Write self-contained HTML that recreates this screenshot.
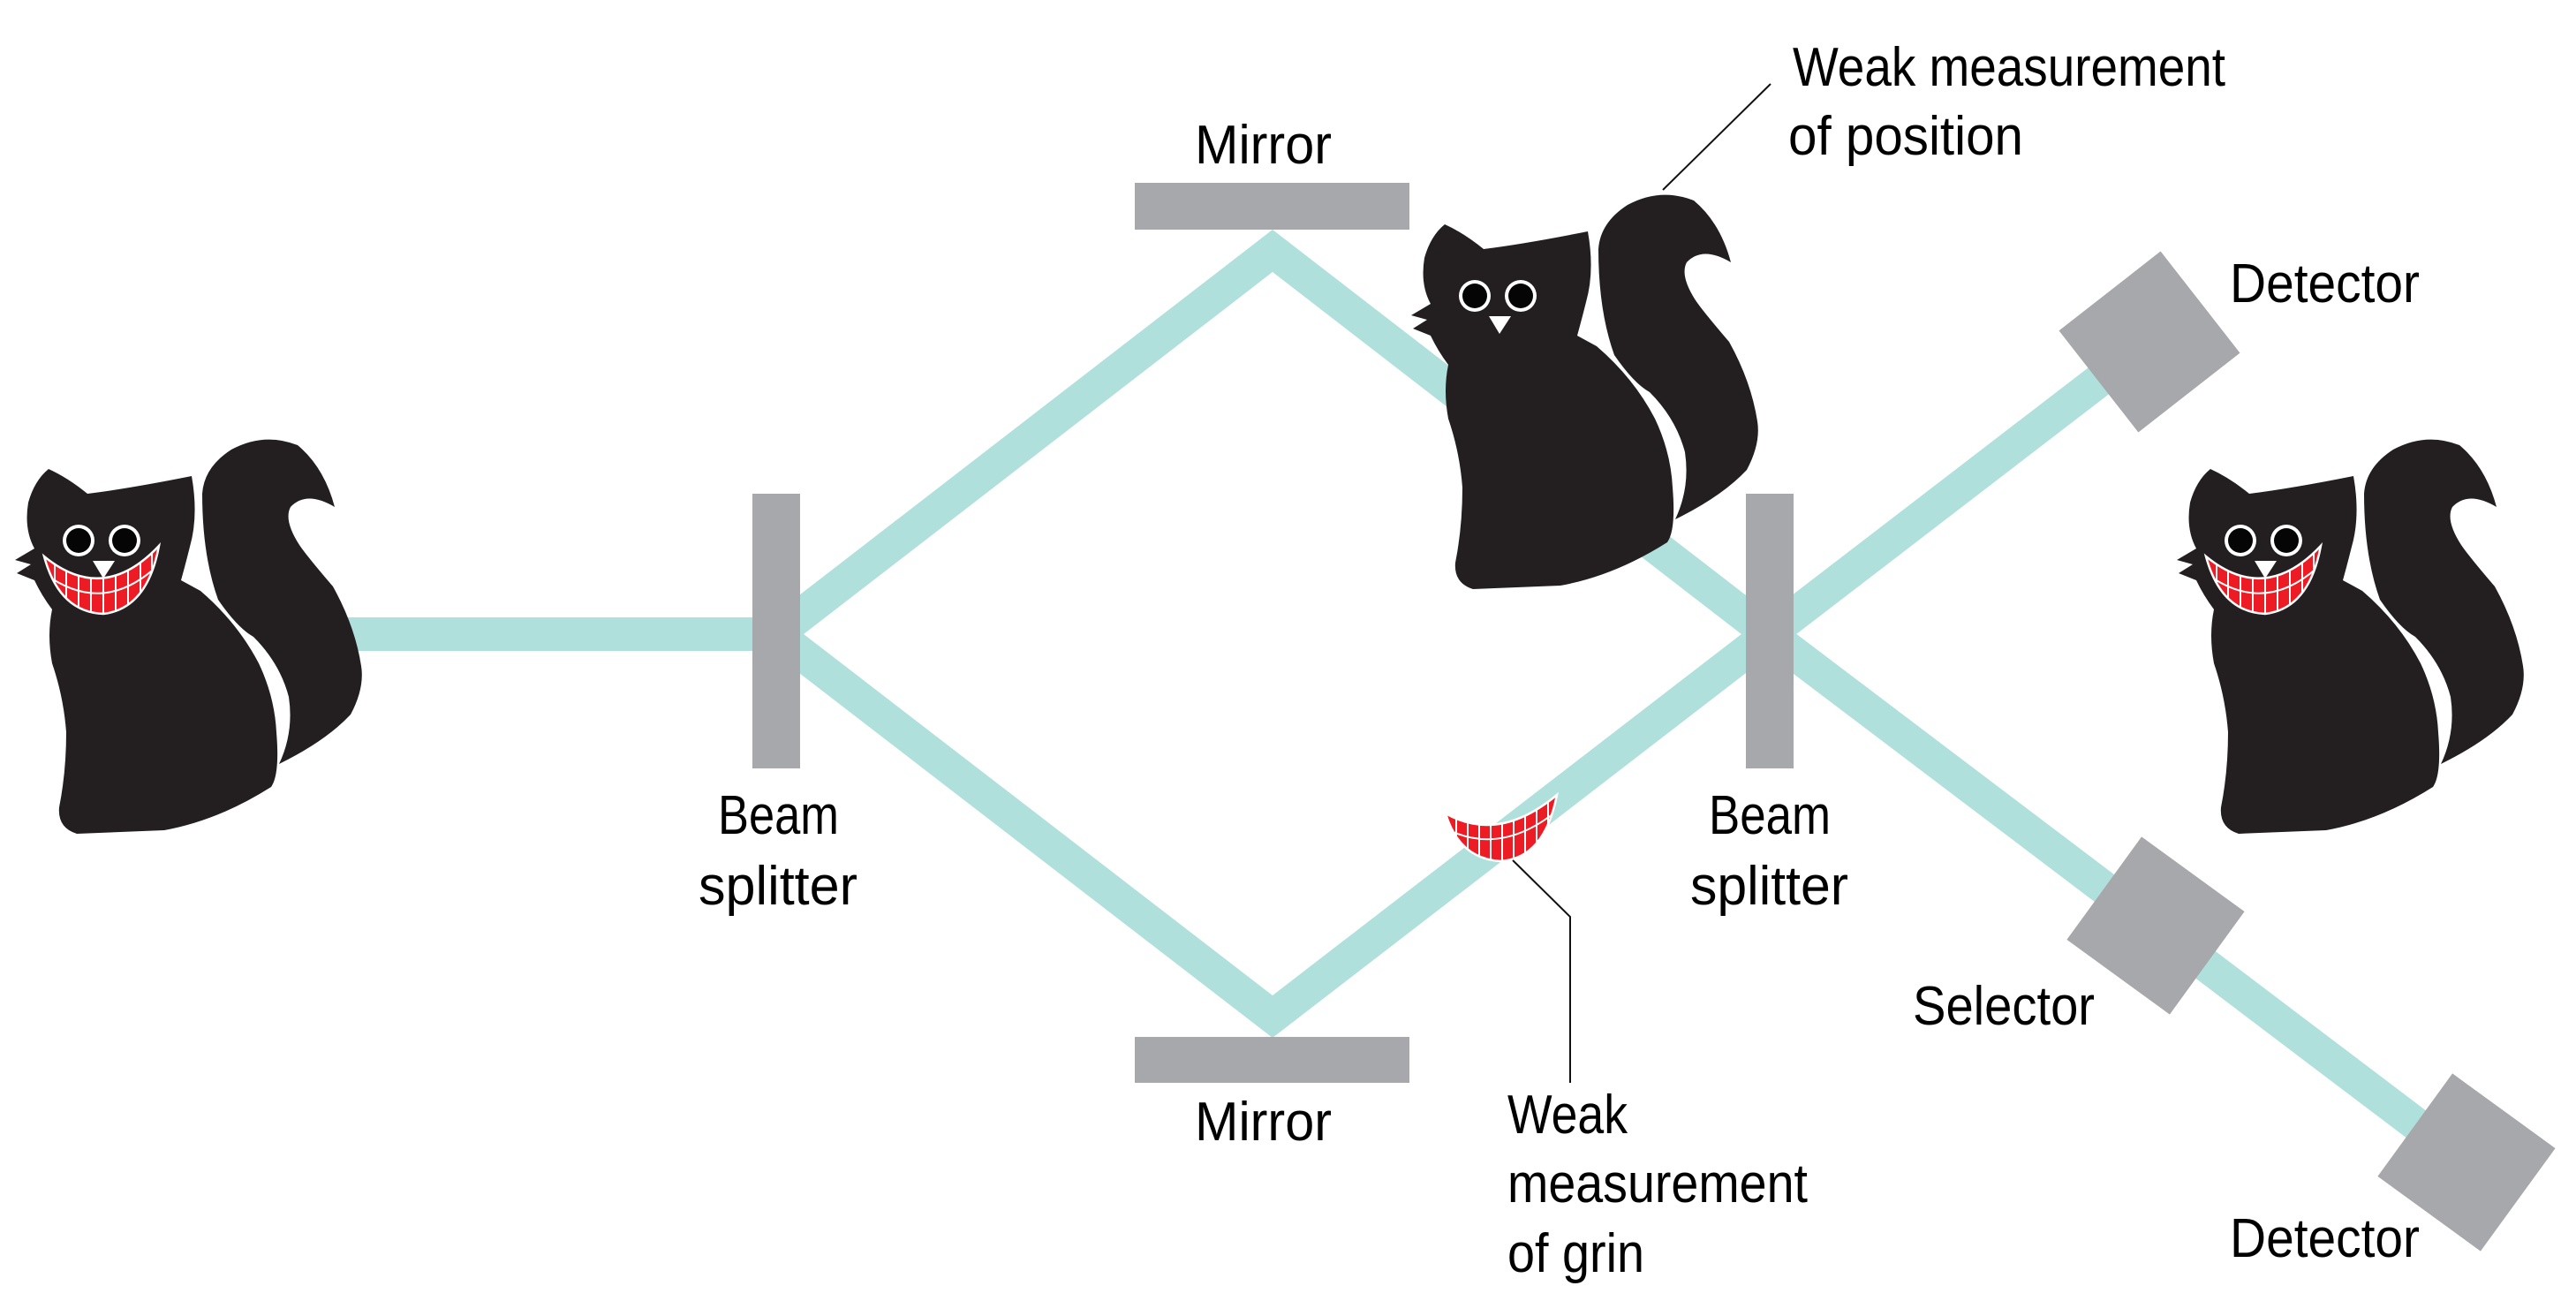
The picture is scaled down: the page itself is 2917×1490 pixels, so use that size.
<!DOCTYPE html>
<html><head><meta charset="utf-8"><style>html,body{margin:0;padding:0;background:#fff}svg{display:block}</style></head>
<body>
<svg width="2917" height="1490" viewBox="0 0 2917 1490" xmlns="http://www.w3.org/2000/svg">
<defs>
<clipPath id="gc"><path d="M33,141 Q100,196 163,129 Q150,200 100,206 Q50,204 33,141 Z"/></clipPath>
<g id="cat">
  <path fill="#231f20" d="M38,42 Q60,52 82,70 Q130,64 200,50 Q208,95 198,130 Q193,150 188,168 L210,180 Q252,216 276,262 Q294,300 296,340 Q300,388 290,402 Q230,440 169,451 L70,455 Q48,448 50,425 Q58,385 58,340 Q55,300 42,262 Q36,230 42,201 Q30,185 22,168 L2,160 L18,150 L0,145 L22,132 Q10,110 15,80 Q22,55 38,42 Z"/>
  <path fill="#231f20" d="M299,376 Q352,350 380,320 Q396,290 392,265 Q385,220 360,175 Q330,140 322,128 Q304,100 312,85 Q330,66 362,85 Q350,40 320,15 Q282,0 245,20 Q214,40 212,70 Q212,140 230,190 Q252,222 270,232 Q300,262 310,300 Q316,340 299,376 Z"/>
  <circle cx="72" cy="123" r="18" fill="#fff"/><circle cx="72" cy="123" r="14" fill="#050505"/>
  <circle cx="124" cy="123" r="18" fill="#fff"/><circle cx="124" cy="123" r="14" fill="#050505"/>
  <path d="M88,146 L113,146 L100,166 Z" fill="#fff"/>
</g>
<g id="grin">
  <path d="M33,141 Q100,196 163,129 Q150,200 100,206 Q50,204 33,141 Z" fill="#ed1c24" stroke="#fff" stroke-width="2.5"/>
  <g clip-path="url(#gc)" stroke="#fff" stroke-width="2" fill="none">
    <path d="M33,160 Q100,210 163,150"/>
    <path d="M45,140V210M58,140V210M72,140V210M86,140V210M100,140V210M114,140V210M128,140V210M142,140V210M155,130V210"/>
  </g>
</g>
</defs>

<g stroke="#b0e0dc" stroke-width="38" fill="none" stroke-linejoin="miter">
  <line x1="386" y1="718" x2="879" y2="718"/>
  <polyline points="879,718 1441,284 2003,718"/>
  <polyline points="879,718 1441,1151 2003,718"/>
  <line x1="2003" y1="718" x2="2434" y2="387"/>
  <line x1="2003" y1="718" x2="2793" y2="1316"/>
</g>

<g fill="#a7a8ab">
  <rect x="852" y="559" width="54" height="311"/>
  <rect x="1977" y="559" width="54" height="311"/>
  <rect x="1285" y="207" width="311" height="53"/>
  <rect x="1285" y="1174" width="311" height="52"/>
  <rect x="-73" y="-73" width="146" height="146" transform="translate(2434,387) rotate(-38)"/>
  <rect x="-72" y="-72" width="144" height="144" transform="translate(2441,1048) rotate(36)"/>
  <rect x="-72" y="-72" width="144" height="144" transform="translate(2793,1316) rotate(36)"/>
</g>

<g transform="translate(17,489)"><use href="#cat"/><use href="#grin"/></g>
<g transform="translate(2465,489)"><use href="#cat"/><use href="#grin"/></g>
<g transform="translate(1598,212)"><use href="#cat"/></g>

<g transform="translate(1637,900)">
  <clipPath id="gc2"><path d="M0,21 Q60,55 126,0 Q112,72 62,75 Q15,72 0,21 Z"/></clipPath>
  <path d="M0,21 Q60,55 126,0 Q112,72 62,75 Q15,72 0,21 Z" fill="#ed1c24" stroke="#fff" stroke-width="2.5"/>
  <g clip-path="url(#gc2)" stroke="#fff" stroke-width="2" fill="none">
    <path d="M0,38 Q62,70 126,18"/>
    <path d="M12,20V80M25,20V80M38,20V80M51,20V80M64,20V80M77,20V80M90,20V80M103,10V80M116,0V80"/>
  </g>
</g>

<g stroke="#111" stroke-width="2" fill="none">
  <polyline points="2005,95 1883,215"/>
  <polyline points="1713,974 1778,1038 1778,1226"/>
</g>

<g font-family="Liberation Sans, sans-serif" font-size="62" fill="#000">
  <text x="1353" y="185" textLength="155" lengthAdjust="spacingAndGlyphs">Mirror</text>
  <text x="1353" y="1291" textLength="155" lengthAdjust="spacingAndGlyphs">Mirror</text>
  <text x="813" y="944" textLength="137" lengthAdjust="spacingAndGlyphs">Beam</text>
  <text x="791" y="1024" textLength="180" lengthAdjust="spacingAndGlyphs">splitter</text>
  <text x="1935" y="944" textLength="138" lengthAdjust="spacingAndGlyphs">Beam</text>
  <text x="1914" y="1024" textLength="179" lengthAdjust="spacingAndGlyphs">splitter</text>
  <text x="2030" y="97" textLength="490" lengthAdjust="spacingAndGlyphs">Weak measurement</text>
  <text x="2025" y="175" textLength="266" lengthAdjust="spacingAndGlyphs">of position</text>
  <text x="2525" y="342" textLength="215" lengthAdjust="spacingAndGlyphs">Detector</text>
  <text x="2525" y="1423" textLength="215" lengthAdjust="spacingAndGlyphs">Detector</text>
  <text x="2166" y="1160" textLength="206" lengthAdjust="spacingAndGlyphs">Selector</text>
  <text x="1707" y="1283" textLength="136" lengthAdjust="spacingAndGlyphs">Weak</text>
  <text x="1707" y="1361" textLength="340" lengthAdjust="spacingAndGlyphs">measurement</text>
  <text x="1707" y="1440" textLength="155" lengthAdjust="spacingAndGlyphs">of grin</text>
</g>
</svg>
</body></html>
